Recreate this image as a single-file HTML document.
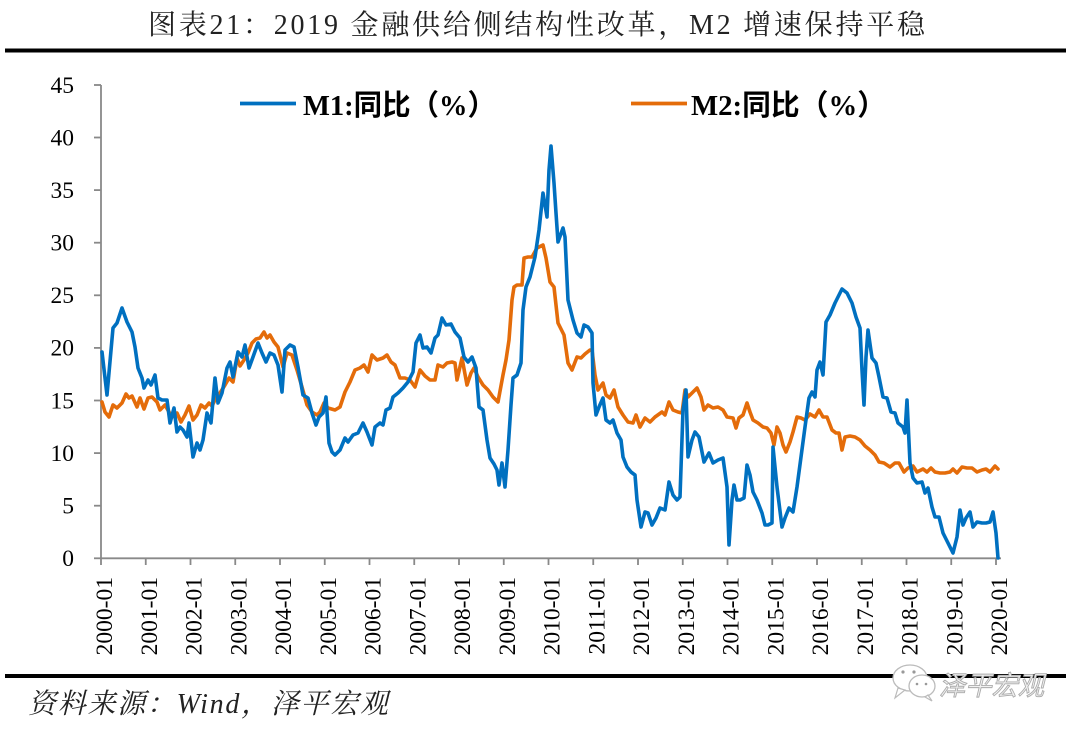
<!DOCTYPE html>
<html><head><meta charset="utf-8"><style>
html,body{margin:0;padding:0;background:#fff;}
svg{display:block;}
</style></head><body>
<svg width="1080" height="732" viewBox="0 0 1080 732" xmlns="http://www.w3.org/2000/svg">
<rect width="1080" height="732" fill="#fff"/>
<text x="148" y="34" textLength="777" lengthAdjust="spacing" font-family="'Liberation Serif','Noto Serif CJK SC',serif" font-size="28" fill="#222">图表21：2019 金融供给侧结构性改革，M2 增速保持平稳</text>
<rect x="5" y="48.5" width="1061" height="4" fill="#000"/>
<g stroke="#898989" stroke-width="1.8" fill="none">
<line x1="101" y1="85" x2="101" y2="559"/>
<line x1="100" y1="558.3" x2="1001" y2="558.3"/>
<line x1="94" y1="558.3" x2="101" y2="558.3"/>
<line x1="94" y1="505.7" x2="101" y2="505.7"/>
<line x1="94" y1="453.1" x2="101" y2="453.1"/>
<line x1="94" y1="400.5" x2="101" y2="400.5"/>
<line x1="94" y1="347.9" x2="101" y2="347.9"/>
<line x1="94" y1="295.3" x2="101" y2="295.3"/>
<line x1="94" y1="242.7" x2="101" y2="242.7"/>
<line x1="94" y1="190.1" x2="101" y2="190.1"/>
<line x1="94" y1="137.5" x2="101" y2="137.5"/>
<line x1="94" y1="85" x2="101" y2="85"/>
<line x1="101" y1="558" x2="101" y2="565"/>
<line x1="145.75" y1="558" x2="145.75" y2="565"/>
<line x1="190.5" y1="558" x2="190.5" y2="565"/>
<line x1="235.25" y1="558" x2="235.25" y2="565"/>
<line x1="280" y1="558" x2="280" y2="565"/>
<line x1="324.75" y1="558" x2="324.75" y2="565"/>
<line x1="369.5" y1="558" x2="369.5" y2="565"/>
<line x1="414.25" y1="558" x2="414.25" y2="565"/>
<line x1="459" y1="558" x2="459" y2="565"/>
<line x1="503.75" y1="558" x2="503.75" y2="565"/>
<line x1="548.5" y1="558" x2="548.5" y2="565"/>
<line x1="593.25" y1="558" x2="593.25" y2="565"/>
<line x1="638" y1="558" x2="638" y2="565"/>
<line x1="682.75" y1="558" x2="682.75" y2="565"/>
<line x1="727.5" y1="558" x2="727.5" y2="565"/>
<line x1="772.25" y1="558" x2="772.25" y2="565"/>
<line x1="817" y1="558" x2="817" y2="565"/>
<line x1="861.75" y1="558" x2="861.75" y2="565"/>
<line x1="906.5" y1="558" x2="906.5" y2="565"/>
<line x1="951.25" y1="558" x2="951.25" y2="565"/>
<line x1="996" y1="558" x2="996" y2="565"/>
</g>
<g font-family="'Liberation Serif',serif" font-size="23.5" fill="#000" text-anchor="end">
<text x="74" y="566.1">0</text>
<text x="74" y="513.5">5</text>
<text x="74" y="460.9">10</text>
<text x="74" y="408.3">15</text>
<text x="74" y="355.7">20</text>
<text x="74" y="303.1">25</text>
<text x="74" y="250.5">30</text>
<text x="74" y="197.9">35</text>
<text x="74" y="145.3">40</text>
<text x="74" y="92.8">45</text>
</g>
<g font-family="'Liberation Serif',serif" font-size="23.5" fill="#000" text-anchor="end">
<text transform="translate(112,577) rotate(-90)">2000-01</text>
<text transform="translate(156.75,577) rotate(-90)">2001-01</text>
<text transform="translate(201.5,577) rotate(-90)">2002-01</text>
<text transform="translate(246.25,577) rotate(-90)">2003-01</text>
<text transform="translate(291,577) rotate(-90)">2004-01</text>
<text transform="translate(335.75,577) rotate(-90)">2005-01</text>
<text transform="translate(380.5,577) rotate(-90)">2006-01</text>
<text transform="translate(425.25,577) rotate(-90)">2007-01</text>
<text transform="translate(470,577) rotate(-90)">2008-01</text>
<text transform="translate(514.75,577) rotate(-90)">2009-01</text>
<text transform="translate(559.5,577) rotate(-90)">2010-01</text>
<text transform="translate(604.25,577) rotate(-90)">2011-01</text>
<text transform="translate(649,577) rotate(-90)">2012-01</text>
<text transform="translate(693.75,577) rotate(-90)">2013-01</text>
<text transform="translate(738.5,577) rotate(-90)">2014-01</text>
<text transform="translate(783.25,577) rotate(-90)">2015-01</text>
<text transform="translate(828,577) rotate(-90)">2016-01</text>
<text transform="translate(872.75,577) rotate(-90)">2017-01</text>
<text transform="translate(917.5,577) rotate(-90)">2018-01</text>
<text transform="translate(962.25,577) rotate(-90)">2019-01</text>
<text transform="translate(1007,577) rotate(-90)">2020-01</text>
</g>
<polyline fill="none" stroke="#E46C0A" stroke-width="3.6" stroke-linejoin="round" stroke-linecap="round" points="102,402 105,412 109,417 113,405 117,408 122,403 126,394 129,398 132,396 137,407 140,398 144,409 148,398 152,397 157,402 160,410 165,405 169,412 172,417 177,413 181,422 185,415 189,406 193,420 197,415 201,405 205,408 209,403 212,406 216,398 220,393 225,385 229,378 233,382 237,358 240,366 244,360 248,353 252,343 256,339 260,338 264,332 267,338 270,335 274,342 278,347 283,367 287,353 292,355 297,370 302,387 307,405 312,412 317,415 320,412 324,403 328,408 335,410 340,407 345,392 350,382 355,370 360,368 364,365 368,372 372,355 377,360 383,358 387,355 391,362 395,365 400,378 405,378 410,380 415,387 420,370 425,376 430,380 435,380 438,365 443,367 447,363 452,362 455,363 457,380 462,358 467,385 471,373 474,368 478,377 483,385 488,390 493,397 498,402 503,375 506,360 509,340 512,300 514,287 517,285 522,285 524,258 528,257 532,257 537,248 543,245 546,258 550,282 554,287 558,323 564,335 568,363 572,370 577,357 581,358 585,354 590,350 592,350 595,375 598,390 603,383 606,395 610,398 614,390 618,407 623,415 628,422 633,423 636,415 640,427 645,418 650,422 655,417 662,412 665,415 669,402 673,410 678,412 682,413 685,390 688,397 693,392 697,388 701,397 704,410 708,405 713,408 718,407 723,410 727,417 733,418 736,428 739,418 743,415 747,403 750,412 753,420 758,423 763,427 767,428 771,433 774,445 777,427 780,433 783,445 786,452 790,442 793,432 797,417 801,418 805,420 810,414 815,417 819,410 823,417 827,417 832,430 836,433 839,433 842,450 845,437 850,436 855,437 860,440 865,446 870,450 875,455 879,462 884,463 890,467 895,463 899,463 904,472 908,468 913,466 917,472 923,469 927,472 931,468 935,472 940,473 945,473 950,472 953,469 957,473 962,467 967,468 972,468 977,472 982,470 986,469 990,472 995,466 998,469"/>
<polyline fill="none" stroke="#0070C0" stroke-width="3.6" stroke-linejoin="round" stroke-linecap="round" points="102,352 107,395 113,328 117,323 122,308 127,322 132,332 135,347 138,368 142,378 144,388 148,380 151,385 155,375 158,398 162,400 167,400 170,423 174,408 177,432 180,427 183,430 187,437 189,423 193,457 197,443 200,450 203,440 207,413 211,423 215,378 218,403 222,393 227,368 230,362 233,377 238,352 242,357 245,345 249,368 253,357 258,343 262,353 266,362 270,353 274,355 278,365 282,392 285,350 290,345 294,347 298,367 303,395 308,398 312,413 316,425 319,417 323,413 326,397 329,443 332,452 335,455 340,450 345,438 348,442 353,435 358,433 363,423 367,432 372,445 375,427 380,423 383,425 386,410 390,408 393,397 398,393 403,388 408,382 413,372 416,343 420,335 423,348 427,347 431,353 435,338 438,335 442,318 446,325 451,324 455,332 460,338 464,357 468,362 472,357 476,368 479,407 483,410 487,440 490,458 494,464 497,470 499,485 502,463 505,487 508,450 511,405 513,378 517,375 521,363 523,310 526,287 530,277 535,257 539,230 543,193 547,217 549,170 551,146 554,183 556,213 558,242 563,228 565,237 568,300 573,320 577,333 581,337 584,325 588,327 592,333 593,383 596,415 599,407 603,398 606,420 610,423 613,420 617,433 621,440 623,457 627,467 631,472 635,475 637,500 641,527 645,512 648,513 652,525 656,518 660,508 665,510 669,482 673,495 677,500 680,497 683,410 686,390 688,457 692,440 695,432 699,437 704,462 709,453 713,463 718,460 723,458 727,487 729,545 732,500 734,485 737,500 740,500 744,498 747,465 750,475 753,492 757,500 762,513 765,525 768,525 772,523 773,447 777,487 782,527 785,518 789,508 793,512 797,487 801,457 805,427 809,398 812,392 815,397 817,370 820,362 823,375 826,322 830,315 835,303 842,289 847,293 852,303 856,317 860,328 862,370 864,405 866,357 868,330 872,358 876,363 879,377 883,397 887,398 891,412 895,413 898,423 903,427 905,433 907,400 910,463 913,478 917,483 922,482 925,493 928,488 932,507 935,517 939,517 943,533 948,543 953,553 957,537 960,510 963,525 966,518 970,512 973,527 977,522 982,523 986,523 990,522 993,512 996,533 998,558"/>
<line x1="240" y1="103.5" x2="296" y2="103.5" stroke="#0070C0" stroke-width="3.8"/>
<text x="303" y="115" textLength="193" lengthAdjust="spacingAndGlyphs" font-family="'Liberation Serif','Noto Sans CJK SC',sans-serif" font-weight="bold" font-size="29" fill="#000">M1:同比（%）</text>
<line x1="631" y1="103.5" x2="687" y2="103.5" stroke="#E46C0A" stroke-width="3.8"/>
<text x="691" y="115" textLength="195" lengthAdjust="spacingAndGlyphs" font-family="'Liberation Serif','Noto Sans CJK SC',sans-serif" font-weight="bold" font-size="29" fill="#000">M2:同比（%）</text>
<rect x="5" y="674" width="1061" height="4" fill="#000"/>
<text x="28" y="713" textLength="360" lengthAdjust="spacing" font-family="'Liberation Serif','Noto Serif CJK SC',serif" font-style="italic" font-size="28" fill="#222">资料来源：Wind，泽平宏观</text>
<g>
<ellipse cx="910" cy="678" rx="17" ry="13" fill="#fff" stroke="#bbb" stroke-width="1.3"/>
<path d="M898,688 L895,698 L905,690 Z" fill="#fff" stroke="#bbb" stroke-width="1.2"/>
<ellipse cx="922" cy="686" rx="13" ry="11" fill="#fff" stroke="#bbb" stroke-width="1.3"/>
<path d="M928,695 L932,701 L925,697 Z" fill="#fff" stroke="#bbb" stroke-width="1.2"/>
<circle cx="903" cy="672" r="1.6" fill="#999"/>
<circle cx="914" cy="672" r="1.6" fill="#999"/>
<circle cx="917" cy="684" r="1.3" fill="#999"/>
<circle cx="926" cy="684" r="1.3" fill="#999"/>
<text x="939" y="695" textLength="105" lengthAdjust="spacingAndGlyphs" font-family="'Noto Sans CJK SC',sans-serif" font-style="italic" font-size="27" fill="#f2f2f2" stroke="#aaa" stroke-width="0.9">泽平宏观</text>
</g>
</svg>
</body></html>
